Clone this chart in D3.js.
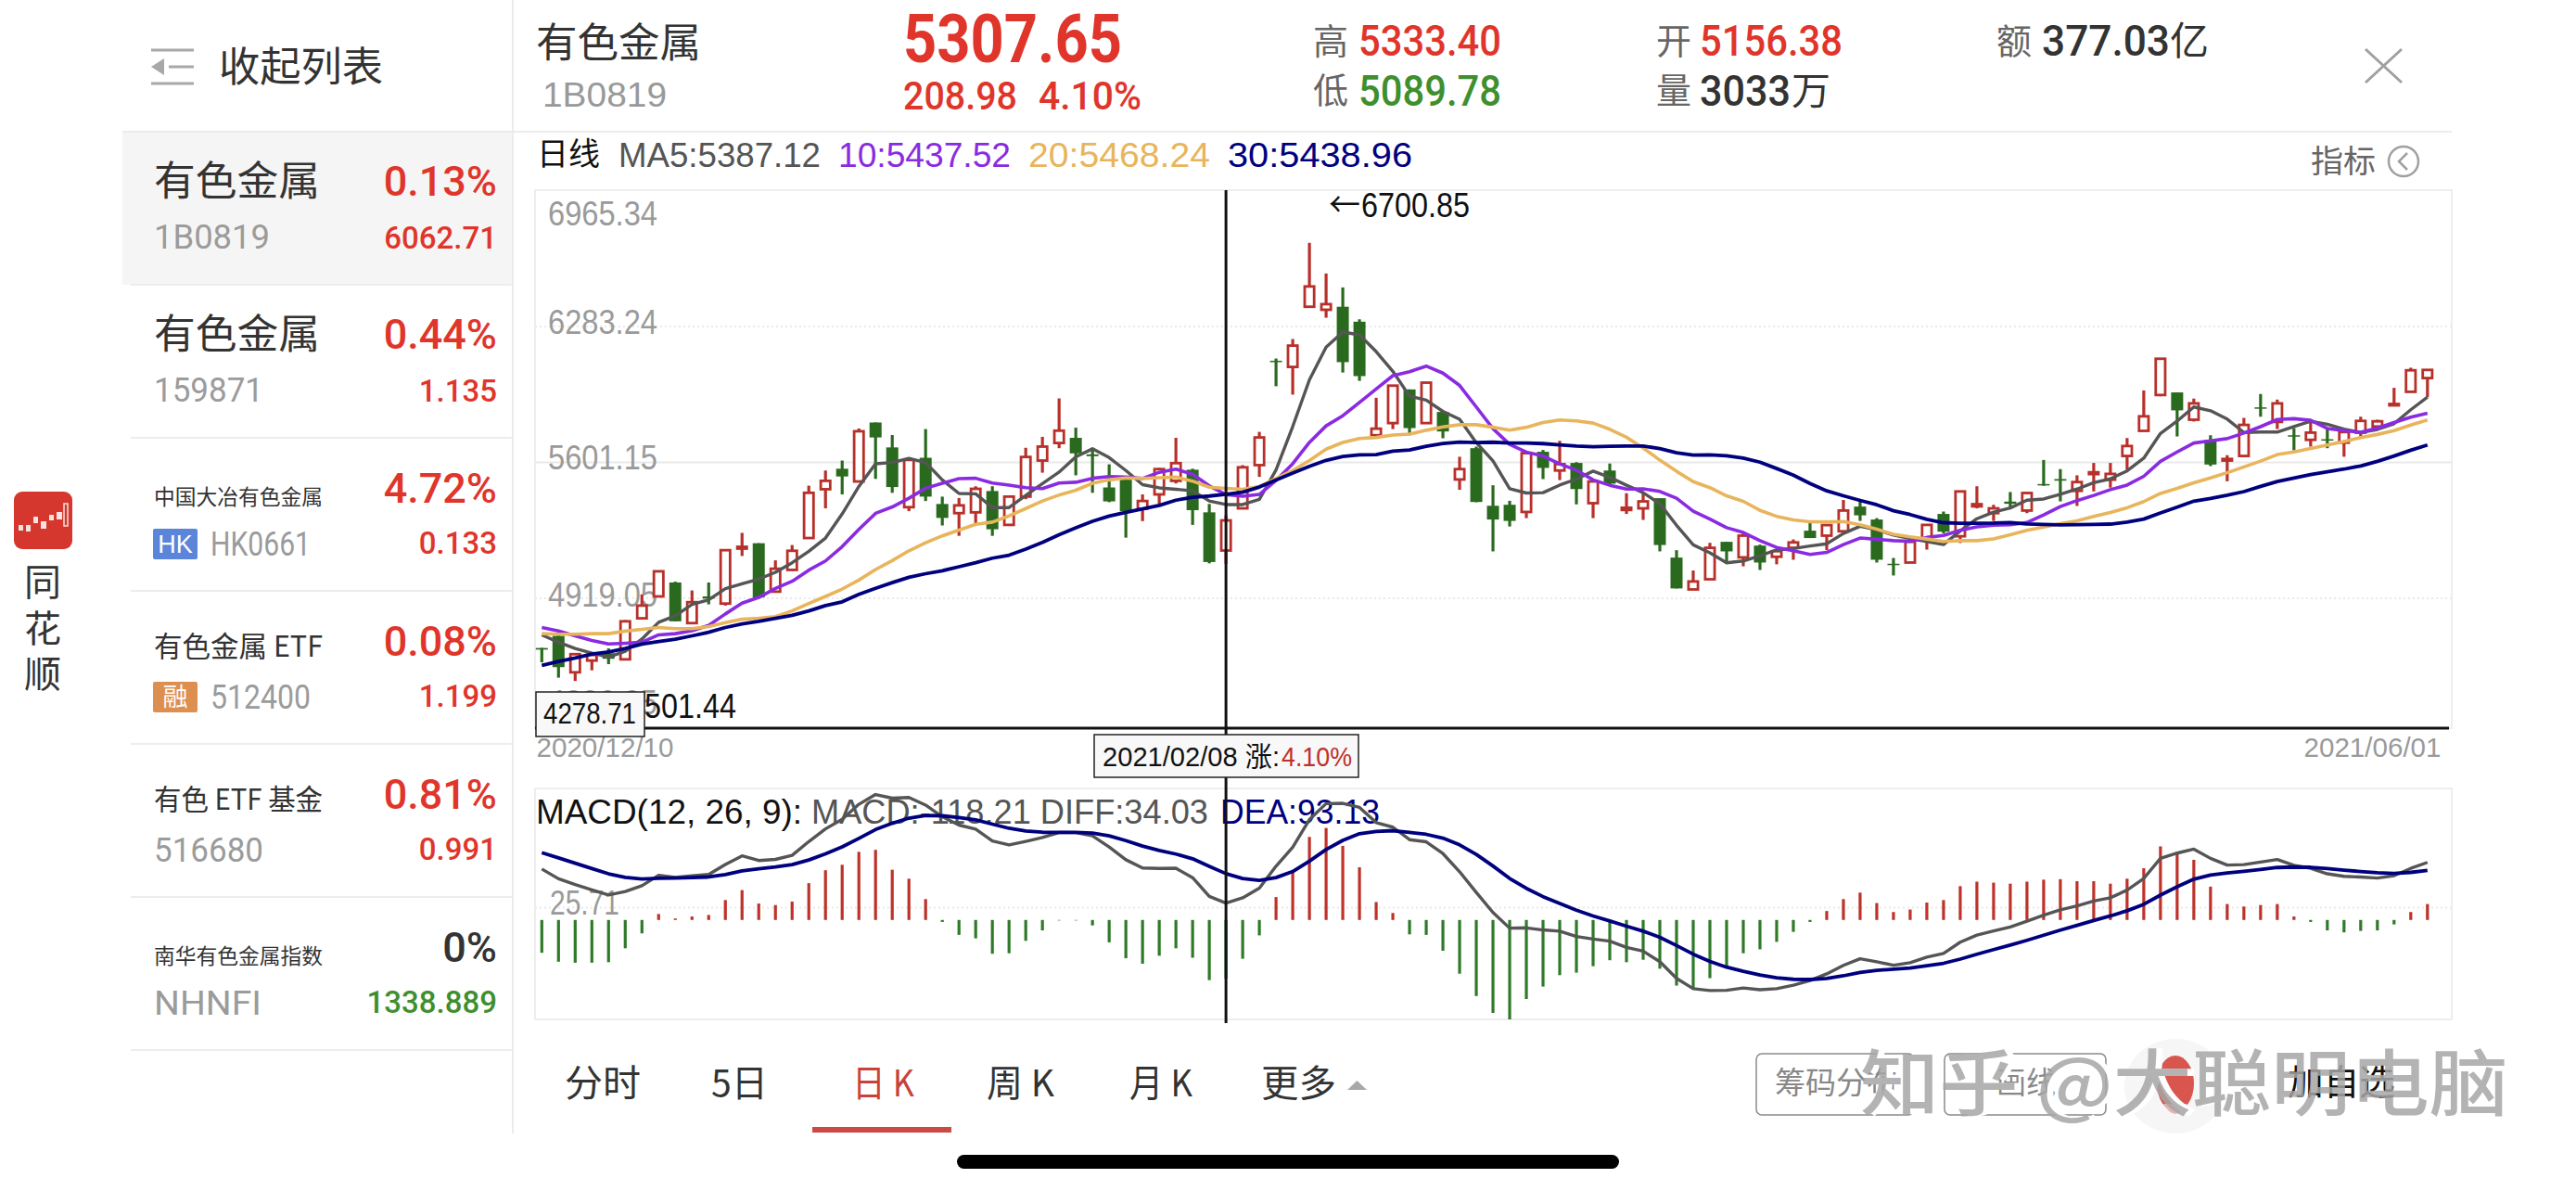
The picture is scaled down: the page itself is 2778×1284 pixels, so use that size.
<!DOCTYPE html>
<html lang="zh-CN">
<head>
<meta charset="utf-8">
<title>有色金属 日K</title>
<script src="https://cdn.jsdelivr.net/npm/d3@7"></script>
<style>
  html, body { margin: 0; padding: 0; background: #fff; }
  svg { display: block; }
</style>
</head>
<body>
<svg id="page" width="2778" height="1284"></svg>
<script>
// Daily candles, 2020/12/10 – 2021/06/01
const opens = [4667,4728,4545,4604,4641,4610,4816,4926,4996,4792,4926,4890,5166,5193,4950,5059,5219,5464,5567,5503,5799,5674,5374,5622,5390,5344,5348,5455,5285,5427,5608,5696,5722,5639,5473,5512,5366,5438,5506,5562,5348,5156.38,5368,5585,6109,6078,6380,6365,6380,6305,5735,5796,5965,5796,5852,5513,5670,5381,5386,5350,5652,5558,5596,5394,5558,5360,5368,5419,5121,4961,5012,5200,5122,5181,5125,5170,5256,5231,5253,5377,5312,5090,5096,5212,5340,5228,5378,5344,5402,5357,5490,5515,5456,5540,5512,5631,5757,5937,5950,5813,5712,5608,5631,5875,5802,5735,5712,5715,5698,5748,5779,5886,5953,6022];
const closes = [4659,4571,4636,4632,4613,4801,4880,5052,4801,4897,4915,5158,5175,4921,5065,5155,5446,5506,5528,5755,5724,5475,5611,5427,5320,5383,5466,5263,5427,5626,5678,5758,5644,5630,5403,5354,5405,5565,5595,5359,5098.67,5307.65,5574,5724,6102,6185,6482,6393,6102,6032,5768,5984,5771,5999,5754,5565,5400,5312,5305,5645,5571,5590,5465,5503,5492,5371,5403,5184,4966,5001,5170,5152,5231,5096,5153,5197,5219,5284,5357,5333,5110,5084,5200,5285,5251,5453,5389,5368,5391,5445,5484,5507,5500,5549,5541,5681,5830,6119,5860,5895,5588,5616,5787,5869,5895,5728,5748,5709,5751,5807,5805,5892,6061,6063];
const highs = [4668,4739,4636,4641,4665,4807,4936,5052,5000,4956,4996,5158,5245,5193,5107,5184,5482,5558,5608,5769,5799,5736,5622,5766,5427,5420,5479,5479,5433,5672,5727,5920,5773,5672,5589,5516,5438,5571,5722,5567,5390,5333.40,5585,5752,6120,6218,6700.85,6547,6477,6317,5923,5984,5965,5999,5856,5627,5678,5484,5406,5645,5661,5707,5600,5503,5593,5444,5450,5419,5158,5056,5195,5200,5243,5186,5161,5212,5295,5284,5410,5410,5319,5119,5208,5285,5352,5453,5479,5386,5450,5450,5611,5565,5534,5596,5596,5721,5960,6119,5950,5919,5735,5635,5822,5942,5914,5771,5799,5766,5751,5828,5813,5973,6074,6063];
const lows = [4595,4518,4501.44,4555,4586,4610,4812,4923,4801,4788,4886,4880,5129,4917,4948,5055,5217,5368,5438,5501,5516,5446,5354,5405,5282,5230,5285,5230,5282,5414,5547,5670,5534,5446,5399,5221,5304,5390,5493,5285,5092,5089.78,5365,5526,5981,5939,6380,6325,6050,6008,5724,5766,5735,5794,5720,5461,5399,5152,5277,5319,5515,5510,5388,5319,5487,5340,5310,5152,4966,4959,5010,5102,5077,5059,5087,5110,5219,5158,5248,5305,5096,5031,5096,5161,5243,5194,5368,5305,5372,5344,5481,5403,5380,5453,5472,5562,5756,5931,5729,5804,5580,5504,5627,5828,5766,5659,5678,5670,5627,5728,5776,5884,5950,5926];

// Moving averages
const ma5 = [4733,4696,4665,4641,4622,4651,4712,4796,4829,4886,4909,4965,4989,5013,5047,5095,5152,5219,5340,5478,5592,5598,5619,5598,5511,5443,5441,5372,5372,5433,5492,5550,5627,5667,5623,5558,5487,5471,5464,5456,5405,5387.12,5387,5413,5561,5779,6013,6177,6253,6239,6155,6056,5931,5911,5855,5815,5698,5606,5467,5445,5447,5485,5515,5555,5524,5484,5447,5391,5283,5185,5145,5095,5104,5130,5160,5166,5179,5190,5242,5278,5261,5234,5217,5202,5186,5255,5316,5349,5370,5409,5415,5439,5465,5497,5516,5556,5620,5744,5806,5877,5858,5816,5749,5751,5751,5779,5805,5790,5766,5749,5764,5793,5863,5926];
const ma10 = [4770,4752,4728,4705,4687,4691,4696,4733,4739,4754,4780,4838,4892,4921,4966,5002,5058,5104,5176,5262,5343,5375,5419,5469,5494,5517,5519,5495,5485,5472,5467,5495,5499,5519,5528,5525,5518,5549,5565,5539,5481,5437.52,5429,5438,5508,5592,5699,5782,5833,5900,5967,6034,6054,6082,6047,5985,5877,5768,5689,5650,5631,5591,5560,5511,5484,5465,5466,5453,5419,5354,5314,5271,5247,5206,5172,5155,5137,5147,5186,5219,5213,5206,5203,5222,5232,5258,5275,5283,5286,5297,5335,5377,5407,5433,5462,5485,5529,5604,5651,5696,5707,5718,5746,5778,5814,5818,5810,5769,5758,5750,5771,5799,5826,5846];
const ma20 = [4739,4736,4736,4739,4739,4752,4761,4770,4764,4764,4775,4794,4812,4816,4825,4853,4890,4926,4963,5008,5061,5106,5155,5195,5230,5259,5288,5299,5330,5367,5405,5435,5459,5494,5511,5521,5518,5522,5525,5505,5474,5468.24,5464,5478,5518,5558,5608,5665,5699,5719,5724,5736,5741,5760,5777,5788,5788,5775,5761,5775,5799,5812,5807,5796,5765,5725,5671,5610,5554,5502,5472,5431,5403,5358,5328,5310,5301,5300,5302,5286,5263,5238,5225,5214,5202,5206,5206,5215,5236,5258,5274,5291,5305,5327,5347,5371,5402,5443,5468,5496,5521,5547,5576,5605,5638,5651,5669,5686,5704,5723,5739,5758,5786,5812];
const ma30 = [4580,4599,4617,4637,4647,4665,4687,4700,4711,4728,4746,4770,4788,4801,4816,4831,4853,4880,4899,4936,4967,4995,5022,5040,5055,5075,5095,5118,5133,5163,5197,5236,5270,5303,5329,5348,5365,5383,5409,5424,5430,5438.96,5449,5475,5510,5545,5579,5609,5628,5637,5638,5655,5661,5680,5694,5701,5698,5700,5696,5696,5693,5687,5681,5677,5680,5681,5681,5668,5647,5635,5637,5632,5620,5600,5568,5535,5493,5456,5431,5408,5386,5356,5337,5313,5296,5293,5293,5294,5297,5290,5287,5285,5286,5287,5289,5299,5314,5345,5374,5404,5418,5434,5452,5478,5503,5520,5538,5552,5565,5581,5604,5631,5660,5686];

// MACD(12, 26, 9)
const macdBars = [-66,-84,-86,-86,-85,-57,-27,12,3,7,10,40,60,33,30,37,74,100,111,137,141,101,83,42,-4,-30,-37,-68,-67,-42,-21,-1,-1,-11,-45,-77,-88,-72,-57,-76,-121,-118.21,-78,-31,46,98,167,185,149,106,36,14,-29,-30,-62,-108,-153,-187,-200,-159,-134,-111,-106,-93,-81,-85,-80,-98,-132,-139,-117,-93,-67,-59,-44,-24,-4,18,42,55,34,16,21,35,40,68,77,75,73,77,81,82,78,78,73,83,104,148,135,121,67,32,27,30,32,7,-4,-21,-25,-22,-21,-9,16,32];
const diffLine = [102.4,82.9,71.2,60.4,50.3,57.2,68.8,89.8,85.7,88.6,91.4,111.4,128.9,119.5,121.8,129.9,157.6,183.1,202.5,232.6,252.3,244.9,246.3,231,207.5,190.8,182.7,158.7,150.8,158,165.9,175.8,175.7,169.3,146.7,121.1,104.6,103.6,104,85,47.4,34.03,44.4,64,108.2,146.5,201.9,234,234.6,226.4,195.9,186.6,161.5,157.2,133.5,97,55.4,15,-16.5,-15.9,-20.1,-22.5,-33.2,-38.4,-42.5,-55.1,-62.6,-83.9,-117.4,-138.3,-141.9,-141.5,-136.9,-140.3,-138.3,-131.3,-121.8,-108.5,-91.3,-77.9,-84.2,-91.2,-86,-74.7,-67.2,-44.7,-30.5,-22.2,-14,-2.4,9.7,20.5,28.2,38,44.6,60,83.5,124,134.4,142.5,123.9,110.4,111.3,116.5,121.5,109.9,103.9,92.8,87.7,86.4,84.3,89.2,103.7,115.7];
const deaLine = [135.4,124.9,114.2,103.4,92.8,85.7,82.3,83.8,84.2,85.1,86.4,91.4,98.9,103,106.8,111.4,120.6,133.1,147,164.1,181.8,194.4,204.8,210,209.5,205.8,201.2,192.7,184.3,179,176.4,176.3,176.2,174.8,169.2,159.6,148.6,139.6,132.5,123,107.9,93.13,83.4,79.5,85.2,97.5,118.4,141.5,160.1,173.4,177.9,179.6,176,172.2,164.5,151,131.9,108.5,83.5,63.6,46.9,33,19.8,8.1,-2,-12.6,-22.6,-34.9,-51.4,-68.8,-83.4,-95,-103.4,-110.8,-116.3,-119.3,-119.8,-117.5,-112.3,-105.4,-101.2,-99.2,-96.5,-92.2,-87.2,-78.7,-69,-59.7,-50.5,-40.9,-30.8,-20.5,-10.8,-1,8.1,18.5,31.5,50,66.9,82,90.4,94.4,97.8,101.5,105.5,106.4,105.9,103.3,100.2,97.4,94.8,93.7,95.7,99.7];

// Axis ticks and date labels
const priceTicks = [6965.34, 6283.24, 5601.15, 4919.05, 4236.95];
const macdTicks = [25.71];
const dateLabels = ["2020/12/10", "2021/06/01"];
const crosshairIndex = 41;
const crosshairDate = "2021/02/08";
const crosshairChange = "4.10%";
const crosshairPrice = 4278.71;

// Watch-list rows
const listNames = ["有色金属", "有色金属", "中国大冶有色金属", "有色金属 ETF", "有色 ETF 基金", "南华有色金属指数"];
const listCodes = ["1B0819", "159871", "HK0661", "512400", "516680", "NHNFI"];
const listPct = ["0.13%", "0.44%", "4.72%", "0.08%", "0.81%", "0%"];
const listPrices = ["6062.71", "1.135", "0.133", "1.199", "0.991", "1338.889"];
const listBadges = ["", "", "HK", "融", "", ""];

// Quote header and bottom tabs
const quoteName = "有色金属";
const quoteCode = "1B0819";
const quoteLast = "5307.65";
const quoteChange = "208.98";
const quotePct = "4.10%";
const tabNames = ["分时", "5日", "日 K", "周 K", "月 K", "更多"];

const RED = "#e0352b", GREEN = "#3f8f2f", CANDLE_RED = "#b7302a", CANDLE_GREEN = "#2a6a1e";
const CJK = "'Noto Sans CJK SC', sans-serif";
const NUM = "'Liberation Sans', Arial, sans-serif";
const MED = "Roboto, 'Liberation Sans', sans-serif";
const NAVY = "#00007f", PURPLE = "#8a2be2", ORANGE = "#e8b55c", GRAY = "#555555";

const svg = d3.select("#page");

// Text helper: the optional width holds a string to its measured run length,
// which gives the tall, condensed look of the app's numerals.
function put(parent, str, x, y, o = {}) {
  const t = parent.append("text")
    .attr("x", x).attr("y", y)
    .attr("dy", o.dy == null ? "0.35em" : o.dy)
    .attr("font-family", o.family || NUM)
    .attr("font-size", o.size || 32)
    .attr("font-weight", o.weight || 400)
    .attr("fill", o.fill || "#333")
    .attr("text-anchor", o.anchor || "start")
    .text(str);
  if (o.width) t.attr("textLength", o.width).attr("lengthAdjust", "spacingAndGlyphs");
  return t;
}

/* ---------- app badge on the far left ---------- */
const logo = svg.append("g");
logo.append("rect").attr("x", 15).attr("y", 530).attr("width", 63).attr("height", 62).attr("rx", 9).attr("fill", "#d5362e");
[[20, 566, 5, 6], [28, 566, 5, 7], [36, 557, 5, 7], [44, 562, 6, 8], [53, 555, 5, 6], [61, 552, 6, 8]].forEach(r => {
  logo.append("rect").attr("x", r[0]).attr("y", r[1]).attr("width", r[2]).attr("height", r[3]).attr("fill", "#f7e3dd");
});
logo.append("rect").attr("x", 69).attr("y", 543).attr("width", 4).attr("height", 24).attr("fill", "none").attr("stroke", "#f7e3dd").attr("stroke-width", 1.5);
["同", "花", "顺"].forEach((c, i) => put(logo, c, 46, 628 + i * 49.5, { family: CJK, size: 40, anchor: "middle", fill: "#333" }));

/* ---------- watch list ---------- */
const side = svg.append("g");
const rowTop = 142, rowH = 165;
side.append("rect").attr("x", 132).attr("y", rowTop).attr("width", 421).attr("height", rowH).attr("fill", "#f5f5f5");
side.append("line").attr("x1", 553).attr("x2", 553).attr("y1", 0).attr("y2", 1222).attr("stroke", "#ececec").attr("stroke-width", 2);
side.append("line").attr("x1", 132).attr("x2", 553).attr("y1", rowTop).attr("y2", rowTop).attr("stroke", "#ececec").attr("stroke-width", 2);
// 收起列表 header with its collapse icon
const icon = side.append("g").attr("stroke", "#a8a8a8").attr("stroke-width", 3).attr("fill", "none");
icon.append("line").attr("x1", 163).attr("x2", 209).attr("y1", 54).attr("y2", 54);
icon.append("line").attr("x1", 163).attr("x2", 209).attr("y1", 90).attr("y2", 90);
icon.append("line").attr("x1", 182).attr("x2", 209).attr("y1", 72).attr("y2", 72);
side.append("path").attr("d", "M163 72 L177 63 L177 81 Z").attr("fill", "#a8a8a8");
put(side, "收起列表", 236, 73, { family: CJK, size: 44, fill: "#333", width: 177 });

listNames.forEach((name, i) => {
  const top = rowTop + i * rowH;
  const big = i < 2;
  const isEtf = name.includes("ETF");
  const nameSize = big ? 44 : isEtf ? 31 : 22.5;
  const nameY = big ? top + 54 : isEtf ? top + 60 : top + 64;
  const pctY = big ? top + 53 : top + 54;
  const codeY = big ? top + 113 : top + 114;
  put(side, name, 166, nameY, { family: CJK, size: nameSize, fill: "#333", width: big ? 179 : 182 });
  const badge = listBadges[i];
  if (badge) {
    side.append("rect").attr("x", 165).attr("y", top + 98).attr("width", 48).attr("height", 33).attr("rx", 2)
      .attr("fill", badge === "HK" ? "#5b85d9" : "#dd8f4f");
    put(side, badge, 189, top + 115, { family: badge === "HK" ? NUM : CJK, size: 27, fill: "#fff", anchor: "middle" });
  }
  const codeWidth = badge ? 108 : i === 0 ? 125 : listCodes[i].length === 5 ? 116 : 118;
  put(side, listCodes[i], badge ? 227 : 166, codeY, { family: MED, size: 36, fill: "#9b9b9b", width: codeWidth });
  const flat = parseFloat(listPct[i]) === 0;
  put(side, listPct[i], 536, pctY, { family: MED, size: 45, weight: 500, fill: flat ? "#333" : RED, anchor: "end" });
  put(side, listPrices[i], 536, big ? top + 114 : top + 113, { family: MED, size: 33, weight: 500, fill: flat ? GREEN : RED, anchor: "end" });
  side.append("line").attr("x1", 141).attr("x2", 552).attr("y1", top + rowH).attr("y2", top + rowH).attr("stroke", "#ededed").attr("stroke-width", 2);
});

/* ---------- quote header ---------- */
const head = svg.append("g");
put(head, quoteName, 578, 47, { family: CJK, size: 44, fill: "#333", width: 178 });
put(head, quoteCode, 585, 102, { size: 36, fill: "#999", width: 134 });
put(head, quoteLast, 974, 42, { family: MED, size: 72, weight: 700, fill: RED, width: 236 });
put(head, quoteChange, 974, 103, { family: MED, size: 43, weight: 500, fill: RED, width: 123 });
put(head, quotePct, 1120, 103, { family: MED, size: 43, weight: 500, fill: RED, width: 111 });

put(head, "高", 1416, 45, { family: CJK, size: 38, fill: "#666" });
put(head, "5333.40", 1465, 44, { family: MED, size: 46, weight: 500, fill: RED, width: 154 });
put(head, "低", 1416, 98, { family: CJK, size: 38, fill: "#666" });
put(head, "5089.78", 1465, 98, { family: MED, size: 46, weight: 500, fill: GREEN, width: 154 });
put(head, "开", 1786, 45, { family: CJK, size: 38, fill: "#666" });
put(head, "5156.38", 1833, 44, { family: MED, size: 46, weight: 500, fill: RED, width: 154 });
put(head, "量", 1786, 98, { family: CJK, size: 38, fill: "#666" });
put(head, "3033", 1833, 98, { family: MED, size: 46, weight: 500, fill: "#333", width: 98 });
put(head, "万", 1932, 98, { family: CJK, size: 42, fill: "#333" });
put(head, "额", 2153, 45, { family: CJK, size: 38, fill: "#666" });
put(head, "377.03", 2202, 44, { family: MED, size: 46, weight: 500, fill: "#333", width: 138 });
put(head, "亿", 2340, 44, { family: CJK, size: 42, fill: "#333" });
head.append("path").attr("d", "M2551 53 L2590 89 M2590 53 L2551 89").attr("stroke", "#a0a0a0").attr("stroke-width", 3).attr("fill", "none");

head.append("line").attr("x1", 553).attr("x2", 2644).attr("y1", 142).attr("y2", 142).attr("stroke", "#ececec").attr("stroke-width", 2);

/* ---------- moving-average legend ---------- */
put(head, "日线", 579, 166, { family: CJK, size: 34, fill: "#111", width: 68 });
put(head, "MA5:5387.12", 667, 167, { size: 37, fill: GRAY, width: 218 });
put(head, "10:5437.52", 904, 167, { size: 37, fill: PURPLE, width: 186 });
put(head, "20:5468.24", 1109, 167, { size: 37, fill: ORANGE, width: 196 });
put(head, "30:5438.96", 1324, 167, { size: 37, fill: NAVY, width: 199 });
put(head, "指标", 2492, 174, { family: CJK, size: 34, fill: "#666", width: 70 });
head.append("circle").attr("cx", 2592).attr("cy", 174).attr("r", 16).attr("fill", "none").attr("stroke", "#a0a0a0").attr("stroke-width", 2.5);
head.append("path").attr("d", "M2596 165 L2587 174 L2596 183").attr("fill", "none").attr("stroke", "#a0a0a0").attr("stroke-width", 2.5);

/* ---------- scales ---------- */
const frameL = 577, frameR = 2644, priceTop = 205, priceBottom = 785, macdTop = 850, macdBottom = 1099;
const x = d3.scalePoint().domain(d3.range(closes.length)).range([584.3, 2617.8]);
const yPrice = d3.scaleLinear().domain([4278.71, 6965.34]).range([782, 205]);
const yMacd = d3.scaleLinear().domain([-200, 266]).range([1099, 849.2]);

/* ---------- price pane ---------- */
const frames = svg.append("g").attr("fill", "none").attr("stroke", "#eeeeee").attr("stroke-width", 2);
frames.append("rect").attr("x", frameL).attr("y", priceTop).attr("width", frameR - frameL).attr("height", priceBottom - priceTop);
frames.append("rect").attr("x", frameL).attr("y", macdTop).attr("width", frameR - frameL).attr("height", macdBottom - macdTop);

const priceOffsets = [25, -5, -5, -4, -34];
const priceAxis = svg.append("g").attr("transform", `translate(${frameL},0)`)
  .call(d3.axisRight(yPrice).tickValues(priceTicks).tickSize(frameR - frameL).tickFormat(d3.format(".2f")));
priceAxis.select(".domain").remove();
priceAxis.selectAll(".tick line")
  .attr("stroke", "#e9e9e9").attr("stroke-width", 2)
  .attr("stroke-dasharray", (d, i) => (i === 2 ? null : "2 3"))
  .attr("opacity", (d, i) => (i === 0 || i === 4 ? 0 : 1));
priceAxis.selectAll(".tick text")
  .attr("x", 14).attr("y", (d, i) => priceOffsets[i]).attr("dy", "0.35em")
  .attr("font-family", NUM).attr("font-size", 36).attr("fill", "#9a9a9a")
  .attr("textLength", 118).attr("lengthAdjust", "spacingAndGlyphs");

// Candles: hollow red for up days, solid green for down days
const candleW = 13;
const candles = svg.append("g").selectAll("g").data(d3.range(closes.length)).join("g");
candles.append("line")
  .attr("x1", i => x(i)).attr("x2", i => x(i))
  .attr("y1", i => yPrice(highs[i])).attr("y2", i => yPrice(lows[i]))
  .attr("stroke", i => (closes[i] >= opens[i] ? CANDLE_RED : CANDLE_GREEN))
  .attr("stroke-width", 3.2);
candles.append("rect")
  .attr("x", i => x(i) - candleW / 2 + (closes[i] >= opens[i] ? 1.4 : 0))
  .attr("width", i => (closes[i] >= opens[i] ? candleW - 2.8 : candleW))
  .attr("y", i => yPrice(Math.max(opens[i], closes[i])))
  .attr("height", i => Math.max(1.5, Math.abs(yPrice(opens[i]) - yPrice(closes[i]))))
  .attr("fill", i => (closes[i] >= opens[i] ? "#fff" : CANDLE_GREEN))
  .attr("stroke", i => (closes[i] >= opens[i] ? CANDLE_RED : CANDLE_GREEN))
  .attr("stroke-width", i => (closes[i] >= opens[i] ? 2.8 : 0));

const priceLine = d3.line().x((d, i) => x(i)).y(d => yPrice(d));
[[ma5, GRAY, 3.4], [ma10, PURPLE, 3.6], [ma20, ORANGE, 3.6], [ma30, NAVY, 3.8]].forEach(([values, color, w]) => {
  svg.append("path").attr("d", priceLine(values)).attr("fill", "none")
    .attr("stroke", color).attr("stroke-width", w).attr("stroke-linejoin", "round");
});

// High and low annotations for the visible range
function extreme(value, xPos, yPos) {
  put(svg, "←", xPos, yPos, { family: CJK, size: 36, fill: "#111", width: 34 });
  put(svg, d3.format(".2f")(value), xPos + 35, yPos, { size: 36, fill: "#111", width: 117 });
}
extreme(highs[d3.maxIndex(highs)], 1433, 221);
extreme(lows[d3.minIndex(lows)], 642, 761);

// Date axis
const dateAxis = svg.append("g").attr("transform", `translate(0,${priceBottom})`)
  .call(d3.axisBottom(x).tickValues([0, closes.length - 1]).tickSize(0).tickFormat((d, i) => dateLabels[i]));
dateAxis.select(".domain").remove();
dateAxis.selectAll(".tick text")
  .attr("transform", null)
  .attr("font-family", NUM).attr("font-size", 30).attr("fill", "#9a9a9a")
  .attr("text-anchor", (d, i) => (i === 0 ? "start" : "end"))
  .attr("x", (d, i) => (i === 0 ? -6.3 : 14.2))
  .attr("y", 20).attr("dy", "0.35em")
  .attr("textLength", 148).attr("lengthAdjust", "spacingAndGlyphs");
svg.append("line").attr("x1", frameL).attr("x2", 2641).attr("y1", priceBottom).attr("y2", priceBottom).attr("stroke", "#111").attr("stroke-width", 3);

/* ---------- MACD pane ---------- */
put(svg, "MACD(12, 26, 9):", 578, 875, { size: 37, fill: "#111", width: 287 });
put(svg, "MACD:-118.21 DIFF:34.03", 875, 875, { size: 37, fill: GRAY, width: 428 });
put(svg, "DEA:93.13", 1316, 875, { size: 37, fill: NAVY, width: 172 });

const macdAxis = svg.append("g").attr("transform", `translate(${frameL},0)`)
  .call(d3.axisRight(yMacd).tickValues(macdTicks).tickSize(frameR - frameL).tickFormat(d3.format(".2f")));
macdAxis.select(".domain").remove();
macdAxis.selectAll(".tick line").attr("stroke", "#e9e9e9").attr("stroke-width", 2).attr("stroke-dasharray", "2 3");
macdAxis.selectAll(".tick text")
  .attr("x", 16).attr("y", -5).attr("dy", "0.35em")
  .attr("font-family", NUM).attr("font-size", 36).attr("fill", "#9a9a9a")
  .attr("textLength", 75).attr("lengthAdjust", "spacingAndGlyphs");

svg.append("g").selectAll("line").data(macdBars).join("line")
  .attr("x1", (d, i) => x(i)).attr("x2", (d, i) => x(i))
  .attr("y1", yMacd(0)).attr("y2", d => yMacd(d))
  .attr("stroke", d => (d >= 0 ? "#bd3229" : "#2f7a28"))
  .attr("stroke-width", 3.2);

const macdLine = d3.line().x((d, i) => x(i)).y(d => yMacd(d));
svg.append("path").attr("d", macdLine(diffLine)).attr("fill", "none").attr("stroke", GRAY).attr("stroke-width", 3.4).attr("stroke-linejoin", "round");
svg.append("path").attr("d", macdLine(deaLine)).attr("fill", "none").attr("stroke", NAVY).attr("stroke-width", 3.8).attr("stroke-linejoin", "round");

/* ---------- crosshair ---------- */
const cx = x(crosshairIndex);
svg.append("line").attr("x1", cx).attr("x2", cx).attr("y1", priceTop).attr("y2", 1103).attr("stroke", "#111").attr("stroke-width", 3);
svg.append("rect").attr("x", 578).attr("y", yPrice(crosshairPrice) - 36).attr("width", 117).attr("height", 48)
  .attr("fill", "#f8f8f8").attr("stroke", "#222").attr("stroke-width", 1.5);
put(svg, d3.format(".2f")(crosshairPrice), 586, yPrice(crosshairPrice) - 13, { size: 32, fill: "#111", width: 100 });
svg.append("rect").attr("x", 1180).attr("y", 792).attr("width", 285).attr("height", 46)
  .attr("fill", "#f8f8f8").attr("stroke", "#222").attr("stroke-width", 1.5);
put(svg, crosshairDate + " 涨:", 1189, 815, { family: `${NUM.split(",")[0]}, ${CJK}`, size: 30, fill: "#111", width: 191 });
put(svg, crosshairChange, 1382, 815, { size: 30, fill: "#c0302a", width: 76 });

/* ---------- bottom tabs ---------- */
const tabs = svg.append("g");
const tabStarts = [609, 767, 919, 1064, 1218, 1360];
const tabWidths = [82, 61, 67, 73, 68, 81];
tabNames.forEach((name, i) => {
  put(tabs, name, tabStarts[i], 1168, { family: CJK, size: 40, fill: i === 2 ? "#c8423c" : "#333", width: tabWidths[i] });
});
tabs.append("rect").attr("x", 876).attr("y", 1215).attr("width", 150).attr("height", 6).attr("fill", "#cc4a44");
tabs.append("path").attr("d", "M1453 1175 L1474 1175 L1463.5 1165 Z").attr("fill", "#a8a8a8");
tabs.append("rect").attr("x", 1032).attr("y", 1245).attr("width", 714).attr("height", 15).attr("rx", 7.5).attr("fill", "#000");

// Tool buttons and the add-to-watchlist marker
tabs.append("rect").attr("x", 1894).attr("y", 1136).attr("width", 170).attr("height", 66).attr("rx", 6).attr("fill", "#fff").attr("stroke", "#8a8a8a").attr("stroke-width", 1.5);
put(tabs, "筹码分布", 1914, 1167, { family: CJK, size: 33, fill: "#888", width: 132 });
tabs.append("rect").attr("x", 2097).attr("y", 1136).attr("width", 174).attr("height", 66).attr("rx", 6).attr("fill", "#fff").attr("stroke", "#8a8a8a").attr("stroke-width", 1.5);
put(tabs, "画线", 2153, 1167, { family: CJK, size: 33, fill: "#888", width: 64 });
tabs.append("ellipse").attr("cx", 2346).attr("cy", 1171).attr("rx", 55).attr("ry", 51).attr("fill", "#f6f6f6");
tabs.append("ellipse").attr("cx", 2346).attr("cy", 1168).attr("rx", 20).attr("ry", 30).attr("fill", "#d9564e");
tabs.append("path").attr("d", "M2333 1190 Q2346 1212 2359 1190 Z").attr("fill", "#e9b4b0");

// Publisher mark stamped across the toolbar: a white offset copy cuts the controls,
// the 加自选 label sits above it, and the grey copy goes over everything.
const markText = "知乎 @大聪明电脑";
const stamp = (fill, dx, opacity) => svg.append("text")
  .attr("x", 2006 + dx).attr("y", 1197)
  .attr("font-family", CJK).attr("font-size", 78).attr("font-weight", 500)
  .attr("fill", fill).attr("opacity", opacity)
  .attr("textLength", 699).attr("lengthAdjust", "spacingAndGlyphs")
  .text(markText);
stamp("#ffffff", 7, 1);
put(svg, "加自选", 2467, 1167, { family: CJK, size: 38, fill: "#111", width: 116 });
stamp("#a6a6a6", 0, 0.85);
</script>
</body>
</html>
